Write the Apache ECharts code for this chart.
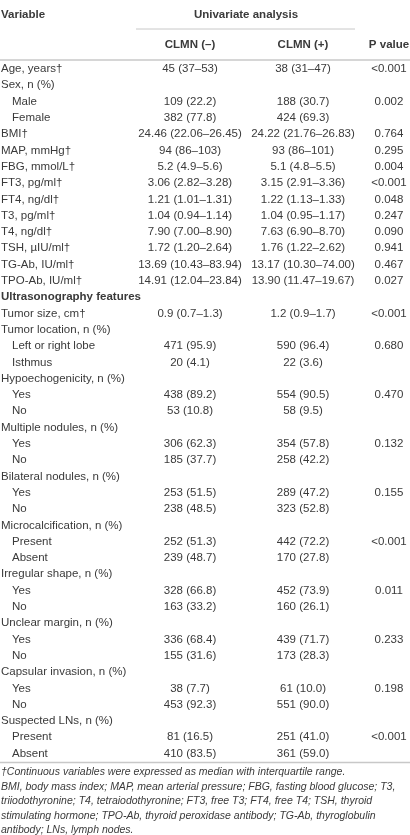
<!DOCTYPE html>
<html>
<head>
<meta charset="utf-8">
<script src="https://cdn.jsdelivr.net/npm/echarts@6/dist/echarts.min.js"></script>
<style>html,body{margin:0;padding:0;background:#fff}#main{width:410px;height:835px}</style>
</head>
<body>
<div id="main"></div>
<script>
// table rows: [label, CLMN(-), CLMN(+), P value, style]  style: h = section header, s = sub row
const variables = ['Age, years†','Sex, n (%)','Male','Female','BMI†','MAP, mmHg†','FBG, mmol/L†','FT3, pg/ml†','FT4, ng/dl†','T3, pg/ml†','T4, ng/dl†','TSH, µIU/ml†','TG-Ab, IU/ml†','TPO-Ab, IU/ml†',
  'Ultrasonography features','Tumor size, cm†','Tumor location, n (%)','Left or right lobe','Isthmus','Hypoechogenicity, n (%)','Yes','No',
  'Multiple nodules, n (%)','Yes','No','Bilateral nodules, n (%)','Yes','No','Microcalcification, n (%)','Present','Absent',
  'Irregular shape, n (%)','Yes','No','Unclear margin, n (%)','Yes','No','Capsular invasion, n (%)','Yes','No','Suspected LNs, n (%)','Present','Absent'];
const rowKind = ['','','s','s','','','','','','','','','','','h','','','s','s','','s','s','','s','s','','s','s','','s','s','','s','s','','s','s','','s','s','','s','s'];
const clmnNeg = ['45 (37–53)','','109 (22.2)','382 (77.8)','24.46 (22.06–26.45)','94 (86–103)','5.2 (4.9–5.6)','3.06 (2.82–3.28)','1.21 (1.01–1.31)','1.04 (0.94–1.14)','7.90 (7.00–8.90)','1.72 (1.20–2.64)','13.69 (10.43–83.94)','14.91 (12.04–23.84)',
  '','0.9 (0.7–1.3)','','471 (95.9)','20 (4.1)','','438 (89.2)','53 (10.8)','','306 (62.3)','185 (37.7)','','253 (51.5)','238 (48.5)','','252 (51.3)','239 (48.7)',
  '','328 (66.8)','163 (33.2)','','336 (68.4)','155 (31.6)','','38 (7.7)','453 (92.3)','','81 (16.5)','410 (83.5)'];
const clmnPos = ['38 (31–47)','','188 (30.7)','424 (69.3)','24.22 (21.76–26.83)','93 (86–101)','5.1 (4.8–5.5)','3.15 (2.91–3.36)','1.22 (1.13–1.33)','1.04 (0.95–1.17)','7.63 (6.90–8.70)','1.76 (1.22–2.62)','13.17 (10.30–74.00)','13.90 (11.47–19.67)',
  '','1.2 (0.9–1.7)','','590 (96.4)','22 (3.6)','','554 (90.5)','58 (9.5)','','354 (57.8)','258 (42.2)','','289 (47.2)','323 (52.8)','','442 (72.2)','170 (27.8)',
  '','452 (73.9)','160 (26.1)','','439 (71.7)','173 (28.3)','','61 (10.0)','551 (90.0)','','251 (41.0)','361 (59.0)'];
const pValues = ['<0.001','','0.002','','0.764','0.295','0.004','<0.001','0.048','0.247','0.090','0.941','0.467','0.027',
  '','<0.001','','0.680','','','0.470','','','0.132','','','0.155','','','<0.001','',
  '','0.011','','','0.233','','','0.198','','','<0.001',''];
const footnotes = ['†Continuous variables were expressed as median with interquartile range.',
  'BMI, body mass index; MAP, mean arterial pressure; FBG, fasting blood glucose; T3,',
  'triiodothyronine; T4, tetraiodothyronine; FT3, free T3; FT4, free T4; TSH, thyroid',
  'stimulating hormone; TPO-Ab, thyroid peroxidase antibody; TG-Ab, thyroglobulin',
  'antibody; LNs, lymph nodes.'];

const font = 'Liberation Sans, Arial, sans-serif';
const ink = '#3a3a3a';
const top0 = 69, step = 16.3;
const colX = [190, 303, 389];
const els = [];
function txt(x, y, s, opt) {
  els.push({type: 'text', x: x, y: y, style: Object.assign({text: s, fill: ink, font: '11.5px ' + font, textAlign: 'left', textVerticalAlign: 'middle'}, opt || {})});
}
function line(x1, y, x2, w) {
  els.push({type: 'line', shape: {x1: x1, y1: y, x2: x2, y2: y}, style: {stroke: '#c8c8c8', lineWidth: w || 1.5}});
}
// header
txt(1, 15, 'Variable', {font: 'bold 11.5px ' + font});
txt(246, 15, 'Univariate analysis', {font: 'bold 11.5px ' + font, textAlign: 'center'});
line(136, 29, 355, 1);
txt(colX[0], 45, 'CLMN (–)', {font: 'bold 11.5px ' + font, textAlign: 'center'});
txt(colX[1], 45, 'CLMN (+)', {font: 'bold 11.5px ' + font, textAlign: 'center'});
txt(colX[2], 45, 'P value', {font: 'bold 11.5px ' + font, textAlign: 'center'});
line(0, 60, 410);
variables.forEach(function (v, i) {
  const y = top0 + i * step;
  const k = rowKind[i];
  txt(k === 's' ? 12 : 1, y, v, k === 'h' ? {font: 'bold 11.5px ' + font} : null);
  txt(colX[0], y, clmnNeg[i], {textAlign: 'center'});
  txt(colX[1], y, clmnPos[i], {textAlign: 'center'});
  txt(colX[2], y, pValues[i], {textAlign: 'center'});
});
line(0, top0 + (variables.length - 1) * step + 9, 410);
footnotes.forEach(function (f, i) {
  txt(1, 772 + i * 14.6, f, {font: 'italic 10.5px ' + font});
});

const chart = echarts.init(document.getElementById('main'));
chart.setOption({graphic: {elements: els}});
</script>
</body>
</html>
